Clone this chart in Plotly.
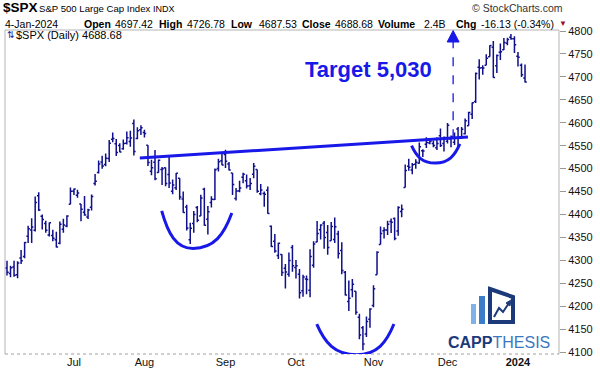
import pandas as pd
import plotly.graph_objects as go

# ---------------- data ----------------
holidays = ["2023-06-19", "2023-07-04", "2023-09-04", "2023-11-23", "2023-12-25", "2024-01-01"]
dates = pd.bdate_range("2023-06-05", "2024-01-04", freq="C", holidays=holidays)

opens = [
    4282.99, 4271.34, 4285.47, 4268.69, 4304.88, 4308.32, 4352.61, 4366.29, 4365.33, 4440.95,
    4396.11, 4380.01, 4355.40, 4354.17, 4344.84, 4337.36, 4367.48, 4374.94, 4422.44,
    4450.48, 4442.04, 4422.62, 4404.54, 4394.23, 4415.55, 4467.69, 4491.50, 4514.61, 4508.86,
    4521.78, 4563.87, 4554.38, 4550.16, 4543.39, 4555.19, 4558.96, 4598.26, 4565.75, 4584.82,
    4578.83, 4550.93, 4494.27, 4513.96, 4491.58, 4498.03, 4501.57, 4487.16, 4450.69, 4458.13,
    4478.87, 4433.79, 4416.32, 4344.88, 4380.28, 4415.33, 4396.44, 4455.16, 4389.38, 4426.03,
    4432.75, 4500.34, 4517.01,
    4530.60, 4510.06, 4490.35, 4434.55, 4451.30, 4480.98, 4473.27, 4462.65, 4487.78, 4497.98,
    4445.13, 4445.41, 4452.81, 4374.36, 4341.74, 4310.62, 4312.88, 4282.63, 4269.65, 4328.18,
    4284.52, 4269.75, 4233.83, 4259.31, 4234.79, 4289.02, 4339.75, 4366.59, 4380.94, 4360.49,
    4342.37, 4345.23, 4357.35, 4321.36, 4273.85, 4210.40, 4235.79, 4232.42, 4175.99, 4152.93,
    4139.39, 4171.33,
    4201.27, 4268.26, 4334.23, 4364.27, 4366.21, 4384.37, 4391.41, 4364.15, 4406.66, 4458.97,
    4505.30, 4497.08, 4509.55, 4511.70, 4538.77, 4553.04, 4555.84, 4554.86, 4545.55, 4571.84,
    4554.87,
    4559.43, 4564.37, 4557.25, 4586.23, 4568.84, 4576.20, 4593.39, 4618.30, 4646.20, 4721.04,
    4719.74, 4725.58, 4743.72, 4764.73, 4724.29, 4753.92, 4758.86, 4773.45, 4786.44, 4782.88,
    4745.20, 4725.07, 4697.42,
]
highs = [
    4299.28, 4288.33, 4299.19, 4298.01, 4322.62, 4340.13, 4375.37, 4391.82, 4439.20, 4448.47,
    4400.15, 4386.22, 4382.25, 4366.55, 4362.06, 4384.42, 4390.35, 4398.39, 4458.48,
    4456.46, 4454.06, 4422.62, 4440.39, 4412.60, 4443.64, 4488.34, 4517.38, 4527.76, 4532.85,
    4562.30, 4578.43, 4564.74, 4555.00, 4563.41, 4580.62, 4582.47, 4607.07, 4590.16, 4594.22,
    4584.62, 4550.93, 4519.49, 4540.34, 4519.84, 4503.31, 4502.44, 4527.37, 4476.23, 4490.33,
    4478.87, 4449.95, 4421.17, 4381.82, 4407.55, 4418.59, 4443.18, 4458.30, 4418.46, 4439.56,
    4500.14, 4521.65, 4532.26,
    4541.25, 4514.29, 4490.35, 4457.81, 4473.53, 4490.77, 4487.11, 4479.39, 4511.99, 4497.98,
    4466.36, 4449.85, 4461.03, 4375.70, 4357.40, 4338.51, 4313.01, 4292.07, 4317.27, 4333.15,
    4300.58, 4281.15, 4268.50, 4267.13, 4324.10, 4341.73, 4385.46, 4378.64, 4385.85, 4377.10,
    4383.33, 4393.57, 4364.20, 4339.54, 4276.56, 4255.84, 4259.38, 4232.42, 4183.60, 4156.70,
    4177.47, 4195.55,
    4245.64, 4319.72, 4373.62, 4372.21, 4386.26, 4391.20, 4393.40, 4418.03, 4421.76, 4508.67,
    4521.17, 4511.99, 4520.12, 4557.11, 4542.14, 4568.43, 4560.31, 4560.52, 4568.14, 4587.64,
    4569.89,
    4599.39, 4572.37, 4578.56, 4590.74, 4590.92, 4609.23, 4623.71, 4643.93, 4709.69, 4738.57,
    4725.58, 4749.52, 4768.69, 4778.01, 4748.71, 4772.94, 4784.72, 4785.39, 4793.30, 4788.43,
    4754.33, 4729.29, 4726.78,
]
lows = [
    4266.82, 4263.09, 4263.96, 4261.07, 4291.70, 4304.37, 4337.85, 4337.85, 4362.60, 4407.44,
    4367.19, 4360.14, 4351.82, 4341.34, 4328.08, 4335.00, 4360.22, 4371.97, 4422.44,
    4442.29, 4436.61, 4385.05, 4397.40, 4389.92, 4408.46, 4463.23, 4489.36, 4499.56, 4504.90,
    4514.59, 4557.48, 4527.56, 4535.79, 4541.29, 4552.42, 4547.58, 4528.56, 4564.01, 4573.14,
    4567.53, 4505.75, 4485.54, 4474.55, 4491.15, 4464.39, 4461.33, 4457.92, 4443.98, 4453.44,
    4432.19, 4403.55, 4364.83, 4335.31, 4360.30, 4382.77, 4396.44, 4375.55, 4356.29, 4414.98,
    4431.68, 4493.59, 4507.39,
    4501.35, 4496.01, 4442.38, 4430.46, 4448.38, 4467.89, 4456.83, 4453.52, 4478.69, 4447.21,
    4442.11, 4416.61, 4401.38, 4329.17, 4316.49, 4302.70, 4265.98, 4238.63, 4264.38, 4274.86,
    4260.21, 4216.45, 4220.48, 4225.91, 4219.55, 4283.79, 4339.64, 4345.34, 4325.43, 4311.97,
    4342.37, 4337.54, 4303.84, 4269.69, 4223.03, 4189.22, 4219.43, 4181.42, 4127.90, 4103.78,
    4132.94, 4153.12,
    4197.74, 4268.26, 4334.23, 4347.53, 4355.41, 4359.76, 4343.94, 4353.34, 4393.82, 4458.97,
    4495.31, 4487.83, 4499.66, 4510.36, 4525.51, 4545.05, 4552.80, 4546.32, 4540.51, 4547.15,
    4537.24,
    4554.71, 4546.72, 4551.68, 4546.50, 4565.22, 4574.06, 4593.39, 4608.09, 4643.23, 4694.34,
    4704.48, 4725.58, 4743.72, 4697.82, 4708.35, 4736.77, 4758.45, 4768.90, 4780.98, 4751.99,
    4722.67, 4699.71, 4687.53,
]
closes = [
    4273.79, 4283.85, 4267.52, 4293.93, 4298.86, 4338.93, 4369.01, 4372.59, 4425.84, 4409.59,
    4388.71, 4365.69, 4381.89, 4348.33, 4328.82, 4378.41, 4376.86, 4396.44, 4450.38,
    4455.59, 4446.82, 4411.59, 4398.95, 4409.53, 4439.26, 4472.16, 4510.04, 4505.42, 4522.79,
    4554.98, 4565.72, 4534.87, 4536.34, 4554.64, 4567.46, 4566.75, 4537.41, 4582.23, 4588.96,
    4576.73, 4513.39, 4501.89, 4478.03, 4518.44, 4499.38, 4467.71, 4468.83, 4464.05, 4489.72,
    4437.86, 4404.33, 4370.36, 4369.71, 4399.77, 4387.55, 4436.01, 4376.31, 4405.71, 4433.31,
    4497.63, 4514.87, 4507.66,
    4515.77, 4496.83, 4465.48, 4451.14, 4457.49, 4487.46, 4461.90, 4467.44, 4505.10, 4450.32,
    4453.53, 4443.95, 4402.20, 4330.00, 4320.06, 4337.44, 4273.53, 4274.51, 4299.70, 4288.05,
    4288.39, 4229.45, 4263.75, 4258.19, 4308.50, 4335.66, 4358.24, 4376.95, 4349.61, 4327.78,
    4373.63, 4373.20, 4314.60, 4278.00, 4224.16, 4217.04, 4247.68, 4186.77, 4137.23, 4117.37,
    4166.82, 4193.80,
    4237.86, 4317.78, 4358.34, 4365.98, 4378.38, 4382.78, 4347.35, 4415.24, 4411.55, 4495.70,
    4502.88, 4508.24, 4514.02, 4547.38, 4538.19, 4556.62, 4559.34, 4550.43, 4554.89, 4550.58,
    4567.80,
    4594.63, 4569.78, 4567.18, 4549.34, 4585.59, 4604.37, 4622.44, 4643.70, 4707.09, 4719.55,
    4719.19, 4740.56, 4768.37, 4698.35, 4746.75, 4754.63, 4774.75, 4781.58, 4783.35, 4769.83,
    4742.83, 4704.81, 4688.68,
]
month_labels = ["Jul", "Aug", "Sep", "Oct", "Nov", "Dec", "<b>2024</b>"]
y_ticks = list(range(4100, 4801, 50))

# ---------------- figure ----------------
NAVY = "#10108c"
BLUE = "#1818e8"
idx = list(range(len(dates)))
months = pd.Series(dates.to_period("M"))
month_starts = [i for i in idx if i > 0 and months[i] != months[i - 1]]

fig = go.Figure()
fig.add_trace(go.Ohlc(
    x=idx, open=opens, high=highs, low=lows, close=closes,
    increasing=dict(line=dict(color=NAVY, width=1.5)),
    decreasing=dict(line=dict(color=NAVY, width=1.5)),
    tickwidth=0.5, showlegend=False, hoverinfo="skip",
))

L, R, T, B = 5, 559, 30, 354
W, H = 600, 375


def PX(x):
    return (x - L) / (R - L)


def PY(y):
    return (B - y) / (B - T)


shapes = []
# frame
for (x0, y0, x1, y1) in [(L, T, L, B), (L, T, R, T), (R, T, R, B)]:
    shapes.append(dict(type="line", xref="paper", yref="paper", x0=PX(x0), y0=PY(y0),
                       x1=PX(x1), y1=PY(y1), line=dict(color="#b4b4b4", width=1)))
shapes.append(dict(type="line", xref="paper", yref="paper", x0=PX(L), y0=PY(B), x1=PX(R), y1=PY(B),
                   line=dict(color="#a0a0a0", width=1, dash="dot")))

# neckline
shapes.append(dict(type="line", xref="x", yref="y", x0=37.7, y0=4523, x1=130.8, y1=4569,
                   line=dict(color=BLUE, width=3)))


def cup(x0, y0, xb, yb, x1, y1):
    return (f"M {x0},{y0} C {x0 + 0.2 * (xb - x0)},{y0 - 0.6 * (y0 - yb)} {xb - 0.55 * (xb - x0)},{yb} {xb},{yb} "
            f"C {xb + 0.55 * (x1 - xb)},{yb} {x1 - 0.2 * (x1 - xb)},{y1 - 0.6 * (y1 - yb)} {x1},{y1}")


for c in [(43.9, 4408, 52.8, 4326, 63.8, 4403),
          (87.9, 4161, 99.2, 4094, 109.8, 4161),
          (114.8, 4550, 121.5, 4512, 128.5, 4554)]:
    shapes.append(dict(type="path", xref="x", yref="y", path=cup(*c),
                       line=dict(color=BLUE, width=3)))

# dashed arrow
shapes.append(dict(type="line", xref="x", yref="y", x0=126.6, y0=4566, x1=126.6, y1=4778,
                   line=dict(color=BLUE, width=1.3, dash="dash")))
shapes.append(dict(type="path", xref="x", yref="y",
                   path="M 126.6,4801 L 128.3,4776 L 124.9,4776 Z",
                   fillcolor=BLUE, line=dict(color=BLUE, width=1)))


# logo
def ppath(pts, close=True):
    s = "M " + " L ".join(f"{PX(x)},{PY(y)}" for x, y in pts)
    return s + (" Z" if close else "")


LOGO_NAVY = "#1c3a7a"
shapes.append(dict(type="path", xref="paper", yref="paper",
                   path=ppath([(471, 304), (476, 304), (476, 324), (471, 324)]),
                   fillcolor="#7fb2e6", line=dict(width=0)))
shapes.append(dict(type="path", xref="paper", yref="paper",
                   path=ppath([(479, 296), (485, 296), (485, 324), (479, 324)]),
                   fillcolor="#3c7cc8", line=dict(width=0)))
shapes.append(dict(type="path", xref="paper", yref="paper",
                   path=ppath([(490, 289), (513, 297), (513, 322), (490, 322)]),
                   line=dict(color=LOGO_NAVY, width=4)))
shapes.append(dict(type="path", xref="paper", yref="paper",
                   path=ppath([(494, 317), (499, 308), (503, 312), (509, 303)], close=False),
                   line=dict(color=LOGO_NAVY, width=2)))
shapes.append(dict(type="path", xref="paper", yref="paper",
                   path=ppath([(511, 300), (510, 306), (506, 303)]),
                   fillcolor=LOGO_NAVY, line=dict(color=LOGO_NAVY, width=1)))

FONT = "Liberation Sans, Arial, sans-serif"


def txt(x, y, s, size=11, color="#111", bold=False, anchor="left", family=FONT):
    return dict(xref="paper", yref="paper", x=PX(x), y=PY(y), text=(f"<b>{s}</b>" if bold else s),
                showarrow=False, xanchor=anchor, yanchor="middle",
                font=dict(family=family, size=size, color=color))


annotations = [
    txt(1, 8, "$SPX", size=13.5, bold=True, color="#000"),
    txt(37, 9, "S&P 500 Large Cap Index", size=9.6, color="#000"),
    txt(151, 9, "INDX", size=9, color="#000"),
    txt(470, 8, "© StockCharts.com", size=10.5, color="#333"),
    txt(3, 24, "4-Jan-2024", size=10.5, color="#000"),
    txt(82, 24, "Open", size=10.5, bold=True, color="#000"),
    txt(113, 24, "4697.42", size=10.5, color="#000"),
    txt(157, 24, "High", size=10.5, bold=True, color="#000"),
    txt(185, 24, "4726.78", size=10.5, color="#000"),
    txt(229, 24, "Low", size=10.5, bold=True, color="#000"),
    txt(257, 24, "4687.53", size=10.5, color="#000"),
    txt(300, 24, "Close", size=10.5, bold=True, color="#000"),
    txt(333, 24, "4688.68", size=10.5, color="#000"),
    txt(376, 24, "Volume", size=10.5, bold=True, color="#000"),
    txt(422, 24, "2.4B", size=10.5, color="#000"),
    txt(454, 24, "Chg", size=10.5, bold=True, color="#000"),
    txt(479, 24, "-16.13 (-0.34%)", size=10.5, color="#000"),
    txt(563, 24, "▼", size=8, color="#9b1030", anchor="center"),
    txt(5, 35, "⇅", size=9, color="#1a1aa0"),
    txt(14, 35, "$SPX (Daily) 4688.68", size=11, color="#000"),
    txt(368, 69, "Target 5,030", size=22, bold=True, color=BLUE, anchor="center"),
    txt(446, 342, f"<span style='color:{LOGO_NAVY}'><b>CAPP</b></span>"
                  f"<span style='color:#3a78c0'>THESIS</span>", size=16),
]

fig.update_layout(
    width=W, height=H,
    margin=dict(l=L, r=W - R, t=T, b=H - B),
    paper_bgcolor="white", plot_bgcolor="white",
    shapes=shapes, annotations=annotations,
    font=dict(family=FONT, size=11, color="#111"),
    xaxis=dict(range=[-0.5675, 156.64], showgrid=False, zeroline=False, showline=False,
               rangeslider=dict(visible=False), tickmode="array",
               tickvals=month_starts, ticktext=month_labels, ticks="",
               tickfont=dict(size=11, color="#111")),
    yaxis=dict(range=[4095.7, 4802.18], side="right", showgrid=False, zeroline=False,
               showline=False, tickmode="array", tickvals=y_ticks,
               ticks="outside", ticklen=6, tickcolor="#999", tickfont=dict(size=11, color="#111")),
)

fig.write_html("out.html", config={"displayModeBar": False},
               post_script="document.body.style.margin='0';document.body.style.overflow='hidden';")
